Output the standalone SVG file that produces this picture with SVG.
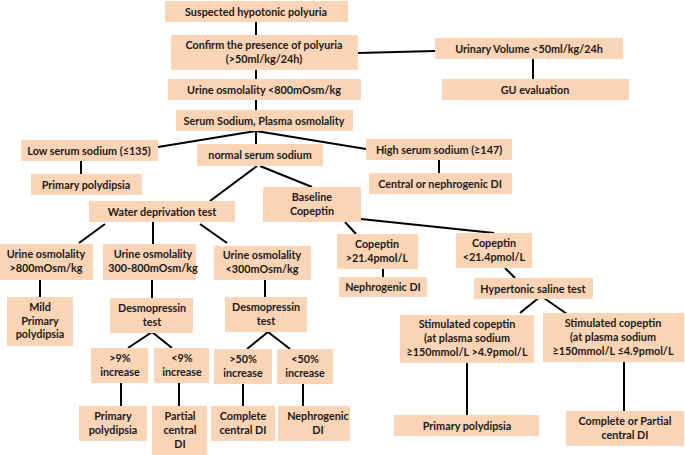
<svg xmlns="http://www.w3.org/2000/svg" width="685" height="455" viewBox="0 0 685 455">
<style>
.b{fill:#FAD4B4;}
text{font-family:Lato,"Liberation Sans",sans-serif;font-weight:bold;font-size:10.8px;fill:#1a1a1a;text-anchor:middle;}
.c line{stroke:#000;stroke-width:2;}
</style>
<rect width="685" height="455" fill="#fff"/>
<g class="c">
<line x1="256" y1="22" x2="256" y2="35"/>
<line x1="256" y1="70" x2="256" y2="79"/>
<line x1="256" y1="100" x2="256" y2="110"/>
<line x1="358" y1="53" x2="435" y2="51"/>
<line x1="533" y1="59" x2="533" y2="79"/>
<line x1="256" y1="131" x2="158" y2="147"/>
<line x1="256" y1="131" x2="256" y2="144"/>
<line x1="256" y1="131" x2="366" y2="149"/>
<line x1="81" y1="161" x2="81" y2="174"/>
<line x1="439" y1="160" x2="439" y2="173"/>
<line x1="257" y1="166" x2="210" y2="201"/>
<line x1="260" y1="166" x2="312" y2="187"/>
<line x1="105" y1="224" x2="79" y2="243"/>
<line x1="153" y1="222" x2="153" y2="244"/>
<line x1="200" y1="224" x2="227" y2="243"/>
<line x1="345" y1="222" x2="356" y2="234"/>
<line x1="361" y1="219" x2="494" y2="233"/>
<line x1="383" y1="269" x2="383" y2="277"/>
<line x1="505" y1="268" x2="515" y2="278"/>
<line x1="541" y1="296" x2="520" y2="313"/>
<line x1="541" y1="296" x2="567" y2="314"/>
<line x1="467" y1="363" x2="467" y2="415"/>
<line x1="624" y1="362" x2="624" y2="411"/>
<line x1="40" y1="280" x2="40" y2="297"/>
<line x1="152" y1="280" x2="152" y2="298"/>
<line x1="265" y1="280" x2="265" y2="297"/>
<line x1="152" y1="332" x2="128" y2="348"/>
<line x1="152" y1="332" x2="172" y2="348"/>
<line x1="268" y1="332" x2="247" y2="349"/>
<line x1="268" y1="332" x2="290" y2="349"/>
<line x1="121" y1="383" x2="121" y2="406"/>
<line x1="179" y1="383" x2="179" y2="406"/>
<line x1="243" y1="384" x2="243" y2="406"/>
<line x1="303" y1="384" x2="303" y2="406"/>
</g>
<g id="n1"><rect class="b" x="165" y="1" width="183" height="21"/><text x="256" y="15.5">Suspected hypotonic polyuria</text></g>
<g id="n2"><rect class="b" x="171" y="35" width="187" height="35"/><text x="264" y="49">Confirm the presence of polyuria</text><text x="264" y="62.5">(&gt;50ml/kg/24h)</text></g>
<g id="n3"><rect class="b" x="168" y="79" width="193" height="21"/><text x="264" y="93.5">Urine osmolality &lt;800mOsm/kg</text></g>
<g id="n4"><rect class="b" x="176" y="110" width="177" height="21"/><text x="264" y="124.5">Serum Sodium, Plasma osmolality</text></g>
<g id="n5"><rect class="b" x="435" y="38" width="188" height="21"/><text x="529" y="52.5">Urinary Volume &lt;50ml/kg/24h</text></g>
<g id="n6"><rect class="b" x="442" y="79" width="187" height="21"/><text x="535" y="93.5">GU evaluation</text></g>
<g id="n7"><rect class="b" x="21" y="140" width="137" height="21"/><text x="89" y="154.5">Low serum sodium (≤135)</text></g>
<g id="n8"><rect class="b" x="197" y="144" width="126" height="22"/><text x="260" y="158.5">normal serum sodium</text></g>
<g id="n9"><rect class="b" x="366" y="139" width="146" height="21"/><text x="439" y="153.5">High serum sodium (≥147)</text></g>
<g id="n10"><rect class="b" x="31" y="174" width="111" height="21"/><text x="86" y="188.5">Primary polydipsia</text></g>
<g id="n11"><rect class="b" x="369" y="173" width="143" height="21"/><text x="440" y="187.5">Central or nephrogenic DI</text></g>
<g id="n12"><rect class="b" x="89" y="201" width="146" height="21"/><text x="162" y="215.5">Water deprivation test</text></g>
<g id="n13"><rect class="b" x="263" y="187" width="98" height="35"/><text x="312" y="201">Baseline</text><text x="312" y="214.5">Copeptin</text></g>
<g id="n14"><rect class="b" x="0" y="244" width="93" height="36"/><text x="46" y="258">Urine osmolality</text><text x="46" y="271.5">&gt;800mOsm/kg</text></g>
<g id="n15"><rect class="b" x="103" y="244" width="93" height="36"/><text x="153" y="258">Urine osmolality</text><text x="153" y="271.5">300-800mOsm/kg</text></g>
<g id="n16"><rect class="b" x="214" y="246" width="97" height="34"/><text x="262" y="259">Urine osmolality</text><text x="262" y="272.5">&lt;300mOsm/kg</text></g>
<g id="n17"><rect class="b" x="337" y="234" width="81" height="35"/><text x="377" y="248">Copeptin</text><text x="377" y="261.5">&gt;21.4pmol/L</text></g>
<g id="n18"><rect class="b" x="456" y="233" width="76" height="35"/><text x="494" y="247">Copeptin</text><text x="494" y="260.5">&lt;21.4pmol/L</text></g>
<g id="n19"><rect class="b" x="339" y="277" width="88" height="20"/><text x="383" y="291">Nephrogenic DI</text></g>
<g id="n20"><rect class="b" x="474" y="278" width="119" height="21"/><text x="533" y="292.5">Hypertonic saline test</text></g>
<g id="n21"><rect class="b" x="400" y="315" width="134" height="48"/><text x="467" y="328">Stimulated copeptin</text><text x="467" y="342">(at plasma sodium</text><text x="467" y="355.5">≥150mmol/L &gt;4.9pmol/L</text></g>
<g id="n22"><rect class="b" x="543" y="313" width="141" height="49"/><text x="613" y="327">Stimulated copeptin</text><text x="613" y="341">(at plasma sodium</text><text x="613" y="354.5">≥150mmol/L ≤4.9pmol/L</text></g>
<g id="n23"><rect class="b" x="394" y="415" width="145" height="21"/><text x="467" y="429.5">Primary polydipsia</text></g>
<g id="n24"><rect class="b" x="566" y="411" width="118" height="35"/><text x="625" y="425">Complete or Partial</text><text x="625" y="438.5">central DI</text></g>
<g id="n25"><rect class="b" x="7" y="297" width="66" height="49"/><text x="40" y="311">Mild</text><text x="40" y="324.5">Primary</text><text x="40" y="338">polydipsia</text></g>
<g id="n26"><rect class="b" x="110" y="298" width="83" height="35"/><text x="152" y="312">Desmopressin</text><text x="152" y="325.5">test</text></g>
<g id="n27"><rect class="b" x="225" y="297" width="82" height="35"/><text x="266" y="311">Desmopressin</text><text x="266" y="324.5">test</text></g>
<g id="n28"><rect class="b" x="91" y="348" width="57" height="35"/><text x="120" y="362">&gt;9%</text><text x="120" y="375.5">increase</text></g>
<g id="n29"><rect class="b" x="154" y="348" width="55" height="35"/><text x="182" y="362">&lt;9%</text><text x="182" y="375.5">increase</text></g>
<g id="n30"><rect class="b" x="214" y="349" width="58" height="35"/><text x="243" y="363">&gt;50%</text><text x="243" y="376.5">increase</text></g>
<g id="n31"><rect class="b" x="277" y="349" width="56" height="35"/><text x="305" y="363">&lt;50%</text><text x="305" y="376.5">increase</text></g>
<g id="n32"><rect class="b" x="79" y="406" width="68" height="35"/><text x="113" y="420">Primary</text><text x="113" y="433.5">polydipsia</text></g>
<g id="n33"><rect class="b" x="152" y="406" width="55" height="49"/><text x="180" y="420">Partial</text><text x="180" y="434">central</text><text x="180" y="447.5">DI</text></g>
<g id="n34"><rect class="b" x="211" y="406" width="64" height="35"/><text x="243" y="420">Complete</text><text x="243" y="433.5">central DI</text></g>
<g id="n35"><rect class="b" x="278" y="406" width="72" height="35"/><text x="318" y="420">Nephrogenic</text><text x="318" y="433.5">DI</text></g>
</svg>
